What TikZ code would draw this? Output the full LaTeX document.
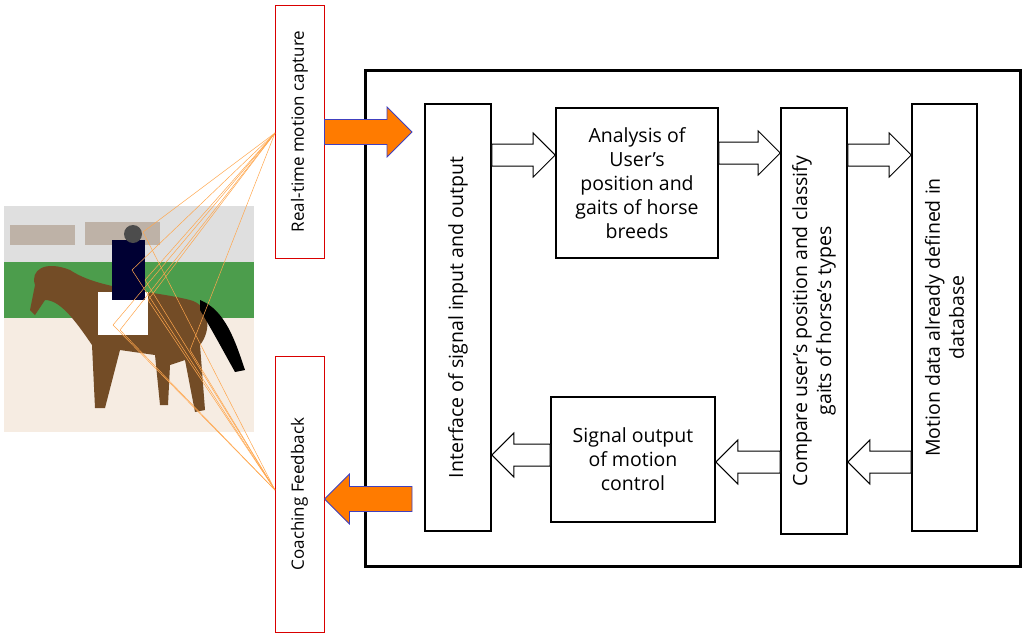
\documentclass[tikz,border=0pt]{standalone}
\usepackage{fontspec}
\setmainfont{Open Sans}
\usetikzlibrary{calc}
\newcommand\garrow[6]{\draw[#3] let \p1=#1,\p2=#2,\n1={sign(\x2-\x1)} in
  (\x1,\y1+#4) -- ({\x2-\n1*#6},\y1+#4) -- ({\x2-\n1*#6},\y1+#5) -- (\x2,\y1) -- ({\x2-\n1*#6},\y1-#5) -- ({\x2-\n1*#6},\y1-#4) -- (\x1,\y1-#4) -- cycle;}
\newcommand\harrow[2]{\garrow{#1}{#2}{line width=1pt,fill=white}{11pt}{22pt}{22pt}}
\begin{document}
\begin{tikzpicture}[x=1pt,y=-1pt,
  box/.style={draw,line width=1.6pt,inner sep=0pt,font=\fontsize{19.5}{24}\selectfont,align=center},
  red/.style={draw=red!85!black,line width=1pt,inner sep=0pt},
  ol/.style={draw=orange!70,line width=0.5pt}]
\useasboundingbox (0,0) rectangle (1024,637);
% photo
\fill[gray!25] (4,206) rectangle (254,432);
\fill[green!45!black!70] (4,262) rectangle (254,318);
\fill[brown!15] (4,318) rectangle (254,432);
\fill[brown!30!gray!60] (10,225) rectangle (75,245);
\fill[brown!30!gray!60] (85,222) rectangle (160,245);
\fill[brown!60!black] (35,285) .. controls (30,270) and (45,260) .. (70,270) .. controls (100,290) and (150,290) .. (190,300) .. controls (210,305) and (212,330) .. (200,345) -- (205,410) -- (195,412) -- (185,360) -- (170,365) -- (168,405) -- (160,405) -- (155,355) -- (120,350) -- (105,408) -- (95,408) -- (92,345) .. controls (75,320) and (60,300) .. (45,300) -- (35,315) -- (30,310) -- cycle;
\fill[black] (200,300) .. controls (225,310) and (235,340) .. (245,370) -- (235,372) .. controls (220,345) and (212,330) .. (200,310) -- cycle;
\fill[white] (98,292) rectangle (148,335);
\fill[blue!20!black] (112,240) rectangle (145,300);
\fill[black!70] (133,234) circle (9pt);
% red boxes
\node[red,minimum width=49pt,minimum height=253pt] (rt) at (299.5,131.5) {};
\node[rotate=90,font=\fontsize{17}{20}\selectfont] at (rt) {Real-time motion capture};
\node[red,minimum width=49pt,minimum height=276pt] (cf) at (299.5,494) {};
\node[rotate=90,font=\fontsize{17}{20}\selectfont] at (cf) {Coaching Feedback};
\coordinate (t) at (275,133); \coordinate (b) at (275,490);
\foreach \p in {(143,232),(132,270),(145,280),(113,325),(120,330),(148,300),(190,350)} {
  \draw[ol] (t) -- \p; \draw[ol] (b) -- \p;}
% main frame
\draw[line width=3pt] (365,70) rectangle (1020,566);
% boxes
\node[box,minimum width=66pt,minimum height=427pt] (A) at (458,317.5) {};
\node[rotate=90,font=\fontsize{19.5}{24}\selectfont] at (A) {Interface of signal input and output};
\node[box,minimum width=162pt,minimum height=150pt] (B) at (637,183) {Analysis of\\User’s\\position and\\gaits of horse\\breeds};
\node[box,minimum width=66pt,minimum height=426pt] (C) at (814,321) {};
\node[rotate=90,align=center,font=\fontsize{19.5}{24}\selectfont] at (C) {Compare user’s position and classify\\gaits of horse’s types};
\node[box,minimum width=65pt,minimum height=427pt] (D) at (944.5,317.5) {};
\node[rotate=90,align=center,font=\fontsize{19.5}{24}\selectfont] at (D) {Motion data already defined in\\database};
\node[box,minimum width=164pt,minimum height=125pt] (E) at (633,459.5) {Signal output\\of motion\\control};
% orange arrows
\coordinate (oe) at (412,132); \coordinate (os) at (412,499);
\garrow{(rt.east |- 0,132)}{(oe)}{draw=blue!50!gray,fill=orange!85!red!90!yellow,line width=0.8pt}{12.5pt}{25pt}{25pt}
\garrow{(os)}{(cf.east |- 0,499)}{draw=blue!50!gray,fill=orange!85!red!90!yellow,line width=0.8pt}{12.5pt}{25pt}{25pt}
% hollow arrows
\harrow{(A.east |- 0,155)}{(B.west |- 0,155)}
\harrow{(B.east |- 0,153)}{(C.west |- 0,153)}
\harrow{(C.east |- 0,155)}{(D.west |- 0,155)}
\harrow{(D.west |- 0,462)}{(C.east |- 0,462)}
\harrow{(C.west |- 0,462)}{(E.east |- 0,462)}
\harrow{(E.west |- 0,455)}{(A.east |- 0,455)}
\end{tikzpicture}
\end{document}
